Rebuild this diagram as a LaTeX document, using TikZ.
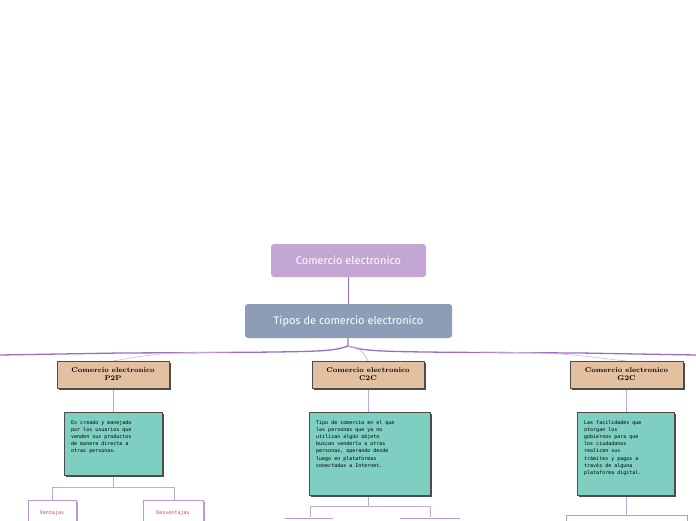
\documentclass[tikz,border=0pt]{standalone}
\usepackage{fontspec}
\newfontfamily\monof{DejaVu Sans Mono}
\newfontfamily\sansf{Fira Sans}
\definecolor{ttl}{HTML}{C3A6D3}
\definecolor{sub}{HTML}{8C9DB5}
\definecolor{tan}{HTML}{E2C0A0}
\definecolor{teal}{HTML}{7ECEC1}
\definecolor{ln}{HTML}{9B6FC0}
\definecolor{red}{HTML}{D0405A}
\begin{document}
\begin{tikzpicture}[x=1pt,y=-1pt,
 top/.style={rounded corners=3pt,text=white,font=\sansf\fontsize{11}{13}\selectfont,inner sep=0},
 cat/.style={fill=tan,draw=black!70,line width=0.4pt,font=\bfseries\fontsize{7}{8}\selectfont,align=center,inner sep=0},
 desc/.style={fill=teal,draw=black!70,line width=0.4pt,font=\monof\fontsize{5}{7.2}\selectfont,align=left,inner sep=0},
 sm/.style={draw=ln!70,fill=white,font=\monof\fontsize{5}{6}\selectfont,text=red,inner sep=0},
 con/.style={draw=ln!60,line width=0.8pt}]
\useasboundingbox (0,0) rectangle (696,520);
% title
\fill[ttl,rounded corners=3pt] (271,244) rectangle (426,277);
\node[top] (t) at (348.5,260.5) {Comercio electronico};
\fill[sub,rounded corners=3pt] (245,304) rectangle (452,338);
\node[top] (s) at (348.5,321) {Tipos de comercio electronico};
\draw[ln,line width=1pt] (348,277) -- (348,304);
% branches
\draw[ln,line width=1.3pt] (348,338) -- (348,346) .. controls (330,352) .. (120,353) -- (0,355);
\draw[ln,line width=1.3pt] (348,346) .. controls (370,352) .. (580,353) -- (696,355);
\draw[ln!50,line width=0.8pt] (348,346) .. controls (362,350) .. (368,361);
\draw[ln!50,line width=0.6pt] (230,352) .. controls (160,353) .. (113,361);
\draw[ln!50,line width=0.6pt] (480,352) .. controls (560,353) .. (626,361);
% P2P
\foreach \a/\b/\c/\d/\n in {57/361/169/388/p,312/361/424/388/c,570/361/683/388/g}{
 \fill[black!70] (\a+2,\b+2) rectangle (\c+2,\d+2);
 \path[cat] (\a,\b) rectangle (\c,\d);
 \coordinate (\n) at ({(\a+\c)/2},\b);}
\node[cat,draw=none,fill=none] (pt) at (113,374.5) {Comercio electronico\\P2P};
\node[cat,draw=none,fill=none] (ct) at (368,374.5) {Comercio electronico\\C2C};
\node[cat,draw=none,fill=none] (gt) at (626.5,374.5) {Comercio electronico\\G2C};
\foreach \a/\b/\c/\d in {64/412/162/475,309/412/430/495,577/412/674/495}{
 \fill[black!70] (\a+2,\b+2) rectangle (\c+2,\d+2);
 \path[desc] (\a,\b) rectangle (\c,\d);}
\draw[con] (113,390) -- (113,412);
\draw[con] (368,390) -- (368,412);
\draw[con] (626,390) -- (626,412);
\node[desc,draw=none,fill=none,anchor=north west] (pd) at (71,420) {Es creado y manejado\\por los usuarios que\\venden sus productos\\de manera directa a\\otras personas.};
\node[desc,draw=none,fill=none,anchor=north west] (cd) at (316,420) {Tipo de comercio en el que\\las personas que ya no\\utilizan algún objeto\\buscan venderlo a otras\\personas, operando desde\\luego en plataformas\\conectadas a Internet.};
\node[desc,draw=none,fill=none,anchor=north west] (gd) at (584,420) {Las facilidades que\\otorgan los\\gobiernos para que\\los ciudadanos\\realicen sus\\trámites y pagos a\\través de alguna\\plataforma digital.};
% lower
\draw[con] (113,477) -- (113,487);
\draw[con] (52,500) -- (52,487) -- (174,487) -- (174,500);
\fill[ln!70] (30,502) rectangle (78,522);
\fill[ln!70] (145,502) rectangle (205,522);
\draw[ln!70,fill=white] (28,500) rectangle (76,525);
\draw[ln!70,fill=white] (143,500) rectangle (203,525);
\node[sm,draw=none,fill=none] (v) at (52,513) {Ventajas};
\node[sm,draw=none,fill=none] (dv) at (173,513) {Desventajas};
\draw[con] (368,497) -- (368,506);
\draw[con] (310,517) -- (310,506) -- (430,506) -- (430,517);
\draw[ln!70,line width=0.8pt] (285,518) -- (333,518);
\draw[ln!70,line width=0.8pt] (400,518) -- (460,518);
\draw[con] (626,497) -- (626,515);
\draw[ln!70,line width=0.8pt] (566,525) -- (566,515) -- (687,515) -- (687,525);
\end{tikzpicture}
\end{document}
